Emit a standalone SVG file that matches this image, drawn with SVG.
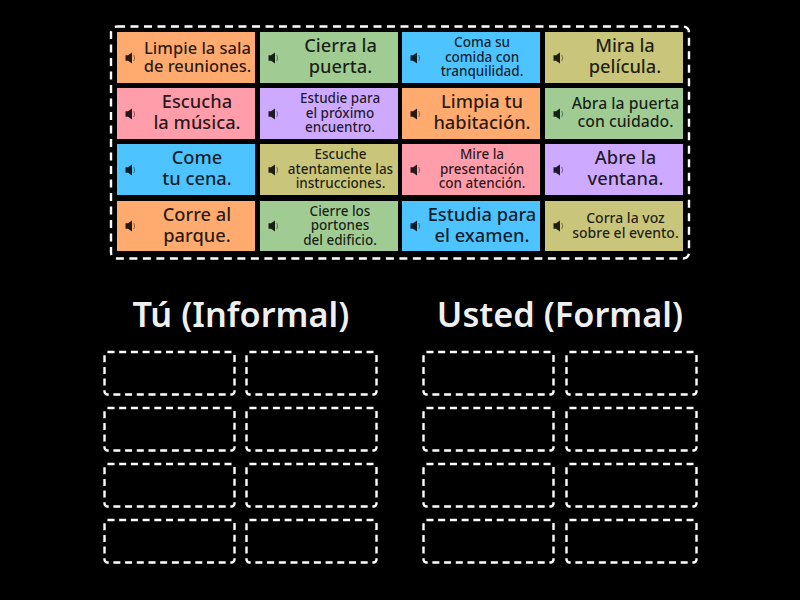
<svg xmlns="http://www.w3.org/2000/svg" width="800" height="600" viewBox="0 0 800 600">
<defs>
<g id="spk"><path d="M-5.500-2.800H-3L1-5.500V5.500L-3 2.800H-5.500Z" fill="#000" fill-opacity=".85"/><path d="M2.800-3Q4.500 0 2.800 3" fill="none" stroke="#000" stroke-opacity=".6" stroke-width=".7"/></g>
</defs>
<style>
text{font-family:"Noto Sans","Open Sans","Liberation Sans",sans-serif;text-anchor:middle;fill:#000;fill-opacity:.85;font-weight:500}
.l{font-size:18.300px}
.m{font-size:16.500px}
.s{font-size:13.500px}
.n{font-size:14px}
.o{fill:#ffab6f}.g{fill:#a0cc94}.b{fill:#4dc3ff}.y{fill:#c9c67b}.p{fill:#ff9dab}.v{fill:#cdaaff}
.d{fill:none;stroke:#fff;stroke-width:2.400;stroke-dasharray:7 4.700}
.tr{stroke-dasharray:8 5.500}
.t{font-size:34.300px;font-weight:600;fill:#fff;fill-opacity:.95}
</style>
<rect width="800" height="600" fill="#000"/>
<g id="cards">
<rect id="tray" class="d tr" x="111" y="26.500" width="578" height="232" rx="6"/>
<g id="c1"><rect class="o" x="117" y="32" width="138" height="51"/><use href="#spk" x="131" y="58"/><text class="m" y="53.500"><tspan x="197.500">Limpie la sala</tspan><tspan x="197.500" dy="18">de reuniones.</tspan></text></g>
<g id="c2"><rect class="g" x="260" y="32" width="138" height="51"/><use href="#spk" x="274" y="58"/><text class="l" y="52"><tspan x="340.500">Cierra la</tspan><tspan x="340.500" dy="21">puerta.</tspan></text></g>
<g id="c3"><rect class="b" x="402" y="32" width="138" height="51"/><use href="#spk" x="416" y="58"/><text class="s" y="47"><tspan x="482">Coma su</tspan><tspan x="482" dy="14.500">comida con</tspan><tspan x="482" dy="14.500">tranquilidad.</tspan></text></g>
<g id="c4"><rect class="y" x="545" y="32" width="138" height="51"/><use href="#spk" x="559" y="58"/><text class="l" y="52"><tspan x="625">Mira la</tspan><tspan x="625" dy="21">película.</tspan></text></g>
<g id="c5"><rect class="p" x="117" y="88" width="138" height="51"/><use href="#spk" x="131" y="114"/><text class="l" y="108"><tspan x="197">Escucha</tspan><tspan x="197" dy="21">la música.</tspan></text></g>
<g id="c6"><rect class="v" x="260" y="88" width="138" height="51"/><use href="#spk" x="274" y="114"/><text class="s" y="103"><tspan x="340">Estudie para</tspan><tspan x="340" dy="14.500">el próximo</tspan><tspan x="340" dy="14.500">encuentro.</tspan></text></g>
<g id="c7"><rect class="o" x="402" y="88" width="138" height="51"/><use href="#spk" x="416" y="114"/><text class="l" y="108"><tspan x="482">Limpia tu</tspan><tspan x="482" dy="20.500">habitación.</tspan></text></g>
<g id="c8"><rect class="g" x="545" y="88" width="138" height="51"/><use href="#spk" x="559" y="114"/><text class="m" y="109" style="font-size:15.800px"><tspan x="625.500">Abra la puerta</tspan><tspan x="625.500" dy="18">con cuidado.</tspan></text></g>
<g id="c9"><rect class="b" x="117" y="144" width="138" height="51"/><use href="#spk" x="131" y="170"/><text class="l" y="164"><tspan x="197">Come</tspan><tspan x="197" dy="21">tu cena.</tspan></text></g>
<g id="c10"><rect class="y" x="260" y="144" width="138" height="51"/><use href="#spk" x="274" y="170"/><text class="s" y="159"><tspan x="340.500">Escuche</tspan><tspan x="340.500" dy="14.500">atentamente las</tspan><tspan x="340.500" dy="14.500">instrucciones.</tspan></text></g>
<g id="c11"><rect class="p" x="402" y="144" width="138" height="51"/><use href="#spk" x="416" y="170"/><text class="s" y="159"><tspan x="482">Mire la</tspan><tspan x="482" dy="14.500">presentación</tspan><tspan x="482" dy="14.500">con atención.</tspan></text></g>
<g id="c12"><rect class="v" x="545" y="144" width="138" height="51"/><use href="#spk" x="559" y="170"/><text class="l" y="164"><tspan x="625.500">Abre la</tspan><tspan x="625.500" dy="21">ventana.</tspan></text></g>
<g id="c13"><rect class="o" x="117" y="201" width="138" height="50"/><use href="#spk" x="131" y="226"/><text class="l" y="221"><tspan x="197">Corre al</tspan><tspan x="197" dy="20.500">parque.</tspan></text></g>
<g id="c14"><rect class="g" x="260" y="201" width="138" height="50"/><use href="#spk" x="274" y="226"/><text class="s" y="215.500"><tspan x="340">Cierre los</tspan><tspan x="340" dy="14.500">portones</tspan><tspan x="340" dy="14.500">del edificio.</tspan></text></g>
<g id="c15"><rect class="b" x="402" y="201" width="138" height="50"/><use href="#spk" x="416" y="226"/><text class="l" y="221"><tspan x="482">Estudia para</tspan><tspan x="482" dy="20.500">el examen.</tspan></text></g>
<g id="c16"><rect class="y" x="545" y="201" width="138" height="50"/><use href="#spk" x="559" y="226"/><text class="n" y="223"><tspan x="625.500">Corra la voz</tspan><tspan x="625.500" dy="14.500">sobre el evento.</tspan></text></g>
</g>
<g id="head-tu"><text class="t" x="241" y="327">Tú (Informal)</text></g>
<g id="head-usted"><text class="t" x="560" y="327">Usted (Formal)</text></g>
<g id="slots">
<rect class="d" x="104.500" y="352" width="130" height="42.500" rx="3"/><rect class="d" x="246.500" y="352" width="130" height="42.500" rx="3"/><rect class="d" x="423.500" y="352" width="130" height="42.500" rx="3"/><rect class="d" x="566.500" y="352" width="130" height="42.500" rx="3"/>
<rect class="d" x="104.500" y="408" width="130" height="42.500" rx="3"/><rect class="d" x="246.500" y="408" width="130" height="42.500" rx="3"/><rect class="d" x="423.500" y="408" width="130" height="42.500" rx="3"/><rect class="d" x="566.500" y="408" width="130" height="42.500" rx="3"/>
<rect class="d" x="104.500" y="464" width="130" height="42.500" rx="3"/><rect class="d" x="246.500" y="464" width="130" height="42.500" rx="3"/><rect class="d" x="423.500" y="464" width="130" height="42.500" rx="3"/><rect class="d" x="566.500" y="464" width="130" height="42.500" rx="3"/>
<rect class="d" x="104.500" y="520" width="130" height="42.500" rx="3"/><rect class="d" x="246.500" y="520" width="130" height="42.500" rx="3"/><rect class="d" x="423.500" y="520" width="130" height="42.500" rx="3"/><rect class="d" x="566.500" y="520" width="130" height="42.500" rx="3"/>
</g>
</svg>
